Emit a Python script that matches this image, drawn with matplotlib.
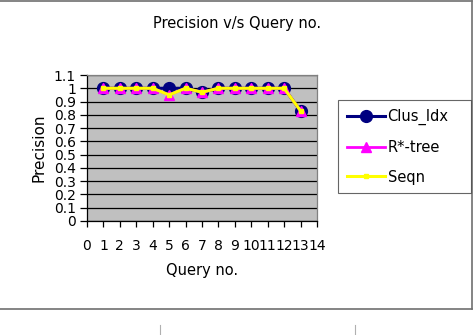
import matplotlib
matplotlib.use("Agg")
import matplotlib.pyplot as plt
from matplotlib.lines import Line2D

plt.rcParams['font.family'] = ['DejaVu Sans']

queries = [1, 2, 3, 4, 5, 6, 7, 8, 9, 10, 11, 12, 13]
clus_idx = [1, 1, 1, 1, 1, 1, 0.97, 1, 1, 1, 1, 1, 0.83]
rstar_tree = [1, 1, 1, 1, 0.95, 1, 0.97, 1, 1, 1, 1, 1, 0.83]
seqn = [1, 1, 1, 1, 0.95, 1, 0.97, 1, 1, 1, 1, 1, 0.83]

yticks = [0, 0.1, 0.2, 0.3, 0.4, 0.5, 0.6, 0.7, 0.8, 0.9, 1, 1.1]
ylabels = ['0', '0.1', '0.2', '0.3', '0.4', '0.5', '0.6', '0.7', '0.8', '0.9', '1', '1.1']
xticks = list(range(15))

fs = 10.5
tfs = 10

fig = plt.figure(figsize=(4.74, 3.35), dpi=100)
ax = fig.add_axes([0.1835, 0.3403, 0.4852, 0.4358])
ax.set_facecolor('#C0C0C0')

ax.plot(queries, clus_idx, color='#000080', lw=2.2, marker='o', ms=8.5,
        mfc='#000080', mec='#000080', label='Clus_Idx', zorder=3)
ax.plot(queries, rstar_tree, color='#FF00FF', lw=2.0, marker='^', ms=6.5,
        mfc='#FF00FF', mec='#FF00FF', label='R*-tree', zorder=4)
ax.plot(queries, seqn, color='#FFFF00', lw=2.2, marker='s', ms=2.5,
        mfc='#FFFF00', mec='#FFFF00', label='Seqn', zorder=5)

ax.set_xlim(0, 14)
ax.set_ylim(0, 1.1)
ax.set_xticks(xticks)
ax.set_xticklabels([str(t) for t in xticks])
ax.set_yticks(yticks)
ax.set_yticklabels(ylabels)
ax.yaxis.grid(True, color='black', lw=0.9)
ax.set_axisbelow(True)
ax.tick_params(axis='x', direction='out', length=4, pad=9, labelsize=tfs, width=0.9)
ax.tick_params(axis='y', direction='out', length=5, pad=3, labelsize=tfs, width=0.9)
for side in ('top', 'right'):
    ax.spines[side].set_color('#808080')
    ax.spines[side].set_linewidth(0.9)
for side in ('left', 'bottom'):
    ax.spines[side].set_color('black')
    ax.spines[side].set_linewidth(0.9)

ax.set_xlabel('Query no.', fontsize=fs, labelpad=7)
ax.set_ylabel('Precision', fontsize=fs + 0.5, labelpad=5)
fig.text(0.5, 0.93, 'Precision v/s Query no.', ha='center', va='center', fontsize=fs)

leg = fig.legend(loc='center', bbox_to_anchor=(0.713, 0.43, 0.281, 0.263),
                 fontsize=fs, frameon=True, fancybox=False, edgecolor='#404040',
                 handlelength=2.6, handletextpad=0.2, labelspacing=1.0,
                 borderaxespad=0, borderpad=0.6, mode='expand')
leg.get_frame().set_linewidth(0.8)

# outer frame lines
fig.add_artist(Line2D([0, 0.995], [0.998, 0.998], color='#707070', lw=1.2))
fig.add_artist(Line2D([0.995, 0.995], [0.077, 0.998], color='#707070', lw=1.2))
fig.add_artist(Line2D([0, 0.995], [0.077, 0.077], color='#707070', lw=1.2))
fig.add_artist(Line2D([0.338, 0.338], [0.0, 0.03], color='#B0B0B0', lw=0.8))
fig.add_artist(Line2D([0.749, 0.749], [0.0, 0.03], color='#B0B0B0', lw=0.8))

fig.savefig('out.png', dpi=100)
